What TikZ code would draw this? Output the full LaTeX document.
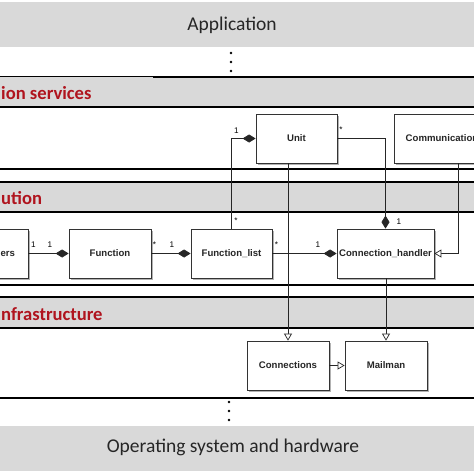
\documentclass[tikz,border=0pt]{standalone}
\usepackage{fontspec}
\setmainfont{Liberation Sans}
\newfontfamily\calib{Carlito}
\usetikzlibrary{arrows.meta,shadows,calc}
\definecolor{band}{RGB}{217,217,217}
\definecolor{hred}{RGB}{176,20,30}
\begin{document}
\begin{tikzpicture}[x=1pt,y=-1pt,
 cls/.style={draw=black!80, fill=white, line width=0.8pt, minimum height=49pt, inner sep=0pt,
   font=\fontsize{9.6}{11}\selectfont\bfseries, text=black!85,
   drop shadow={shadow xshift=1.6pt, shadow yshift=-1.6pt, fill=black!30, opacity=1}},
 sep/.style={line width=1.3pt, draw=black},
 head/.style={anchor=base west, inner sep=0pt, text=hred, font=\calib\fontsize{18.6}{20}\selectfont\bfseries},
 layer/.style={font=\calib\fontsize{19.5}{21}\selectfont, inner sep=0pt, text=black!85},
 conn/.style={draw=black!85, line width=0.7pt},
 comp/.style={conn, -{Diamond[length=13pt,width=8pt]}},
 compstart/.style={conn, {Diamond[length=13pt,width=8pt]}-},
 inh/.style={conn, -{Triangle[open,length=7pt,width=8pt,fill=white]}},
 mult/.style={font=\fontsize{8.2}{9}\selectfont, inner sep=0pt}
]
\useasboundingbox (0,0) rectangle (474,474);
\fill[white] (0,0) rectangle (474,474);
% layer bands
\fill[band] (0,2) rectangle (474,47);
\fill[band] (0,426) rectangle (474,471);
\fill[band] (0,77) rectangle (474,107);
\fill[band] (0,182) rectangle (474,212);
\fill[band] (0,297) rectangle (474,328);
\foreach \yy in {107,169,182,212,285,297,328,398}{
  \draw[sep] (0,\yy) -- (474,\yy);
}
\draw[line width=0.8pt] (0,76.5) -- (153,76.5);
\draw[sep] (153,77) -- (474,77);
\node[layer] (app) at (232,25) {Application};
\node[layer] (os) at (233,447) {Operating system and hardware};
\foreach \yy in {53,62,71}{\fill (231,\yy) circle (1.4pt);}
\foreach \yy in {402,411,420}{\fill (229,\yy) circle (1.4pt);}
\node[head] (h1) at (1,99.5) {ion services};
\node[head] (h2) at (1,204) {ution};
\node[head] (h3) at (1,320) {nfrastructure};
% classes
\node[cls, minimum width=81pt] (unit) at (296.5,138.5) {Unit};
\node[cls, minimum width=96pt] (comm) at (442,138.5) {Communication};
\node[cls, minimum width=81pt, text width=55pt, align=right] (ers) at (-12.5,253.5) {ers};
\node[cls, minimum width=82pt] (func) at (110,253.5) {Function};
\node[cls, minimum width=81pt] (flist) at (231.5,253.5) {Function\_list};
\node[cls, minimum width=97pt] (chand) at (385.5,253.5) {Connection\_handler};
\node[cls, minimum width=82pt] (conns) at (288,365.5) {Connections};
\node[cls, minimum width=82pt] (mail) at (386,365.5) {Mailman};
% connectors
\draw[compstart] (unit.west) -| (flist.north);
\draw[comp] (unit.east) -| (chand.north);
\draw[inh] (conns.north |- unit.south) -- (conns.north);
\draw[inh] ([xshift=65pt]comm.south west) |- (chand.east);
\draw[inh] (mail.north |- chand.south) -- (mail.north);
\draw[inh] (conns.east) -- (mail.west);
\draw[comp] (ers.east) -- (func.west);
\draw[comp] (func.east) -- (flist.west);
\draw[comp] (flist.east) -- (chand.west);
% multiplicities
\node[mult] (m1) at (236.5,131) {1};
\node[mult] (m2) at (341,130) {*};
\node[mult] (m3) at (236,221) {*};
\node[mult] (m4) at (399,222) {1};
\node[mult] (m5) at (33.5,245) {1};
\node[mult] (m6) at (50,245) {1};
\node[mult] (m7) at (154.5,245) {*};
\node[mult] (m8) at (172,245) {1};
\node[mult] (m9) at (276.5,245) {*};
\node[mult] (m10) at (318,245) {1};
\end{tikzpicture}
\end{document}
